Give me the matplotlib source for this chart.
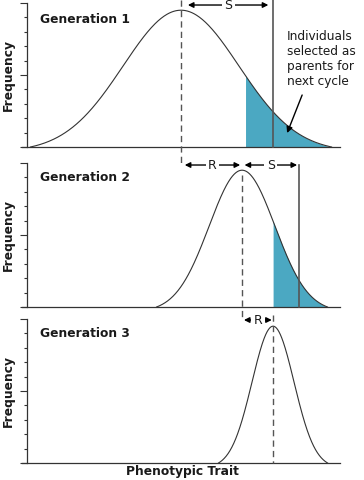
import matplotlib.pyplot as plt
import numpy as np

# trait scale 0..10, frequency scale 0..10
generations = ["Generation 1", "Generation 2", "Generation 3"]
means = [4.92, 6.87, 7.86]
sds = [1.85, 1.05, 0.67]
peak_height = 9.5
cutoff_sd = 2.6

# truncation points and means of the selected parents (gen 1 and gen 2)
thresholds = [6.96, 7.86]
selected_means = [7.86, 8.69]

CURVE = "#333333"
FILL = "#4BA8C2"
GUIDE = "#555555"
TEXT = "#1a1a1a"

fig = plt.figure(figsize=(3.64, 4.8), dpi=100)
bottoms = [0.69375, 0.36042, 0.03542]
axes = [fig.add_axes([0.0742, b, 0.8599, 0.3]) for b in bottoms]


def bell(mu, sd):
    x = np.linspace(mu - cutoff_sd * sd, mu + cutoff_sd * sd, 400)
    c = np.exp(-cutoff_sd**2 / 2)
    y = (np.exp(-0.5 * ((x - mu) / sd) ** 2) - c) / (1 - c) * peak_height
    return x, y


def vline(ax, x, y0, y1, dashed=True, lw=1.0):
    tr = ax.get_xaxis_transform()
    line, = ax.plot([x, x], [y0, y1], color=GUIDE, lw=lw, transform=tr, clip_on=False, zorder=4)
    if dashed:
        line.set_dashes((4.5, 3))


def span(ax, x0, x1, y, label):
    tr = ax.get_xaxis_transform()
    ax.annotate("", xy=(x0, y), xytext=(x1, y), xycoords=tr, textcoords=tr,
                arrowprops=dict(arrowstyle="<|-|>", color="black", lw=1.0,
                                mutation_scale=8, shrinkA=0, shrinkB=0),
                annotation_clip=False, zorder=5)
    ax.text((x0 + x1) / 2, y, label, transform=tr, ha="center", va="center",
            fontsize=9, color=TEXT, zorder=6,
            bbox=dict(boxstyle="square,pad=0.2", fc="white", ec="none"))


for i, ax in enumerate(axes):
    x, y = bell(means[i], sds[i])
    ax.plot(x, y, color=CURVE, lw=0.8, zorder=3)
    if i < 2:
        m = x >= thresholds[i]
        ax.fill_between(x[m], y[m], 0, color=FILL, lw=0, zorder=2)

    ax.set_xlim(0, 10)
    ax.set_ylim(0, 10)
    ax.set_xticks([])
    ax.set_yticks([0, 5, 10])
    ax.set_yticks(range(11), minor=True)
    ax.set_yticklabels([])
    ax.tick_params(axis="y", which="major", length=5, width=0.8, color=CURVE)
    ax.tick_params(axis="y", which="minor", length=2.3, width=0.8, color=CURVE)
    for s in ["top", "right", "bottom"]:
        ax.spines[s].set_visible(False)
    ax.spines["left"].set_color(CURVE)
    ax.spines["left"].set_linewidth(0.9)
    ax.plot([-0.016, 1], [0, 0], transform=ax.transAxes, color=CURVE, lw=0.9, clip_on=False)

    ax.text(0.042, 0.885 if i == 0 else 0.9, generations[i], transform=ax.transAxes,
            fontsize=8.8, fontweight="bold", color=TEXT, va="center")
    ax.text(-0.061, 0.5, "Frequency", transform=ax.transAxes, rotation=90,
            fontsize=8.8, fontweight="bold", color=TEXT, ha="center", va="center")

# generation 1: mean, selected parents, selection differential
ax1, ax2, ax3 = axes
vline(ax1, means[0], 1.02, -0.21)
vline(ax1, selected_means[0], 1.02, 0, dashed=False, lw=1.2)
span(ax1, means[0] + 0.22, selected_means[0] - 0.15, 0.986, "S")
ax1.text(0.83, 0.815, "Individuals\nselected as\nparents for\nnext cycle", transform=ax1.transAxes,
         fontsize=8.7, color=TEXT, va="top", ha="left", linespacing=1.2)
ax1.annotate("", xy=(0.831, 0.097), xytext=(0.879, 0.361), xycoords=ax1.transAxes,
             arrowprops=dict(arrowstyle="-|>", color="black", lw=1.0, mutation_scale=9,
                             shrinkA=0, shrinkB=0), zorder=6)

# generation 2: response and new selection differential
vline(ax2, means[1], 0.92, -0.32)
vline(ax2, selected_means[1], 0.986, 0, dashed=False, lw=1.2)
span(ax2, means[0] + 0.12, means[1] - 0.06, 0.986, "R")
span(ax2, means[1] + 0.08, selected_means[1] - 0.06, 0.986, "S")

# generation 3: response
vline(ax3, means[2], 1.03, 0)
span(ax3, means[1] + 0.06, means[2] - 0.04, 0.993, "R")

fig.text(0.5, 1 - 471 / 480, "Phenotypic Trait", fontsize=8.8, fontweight="bold",
         color=TEXT, ha="center", va="center")

fig.savefig("out.png", dpi=100)
